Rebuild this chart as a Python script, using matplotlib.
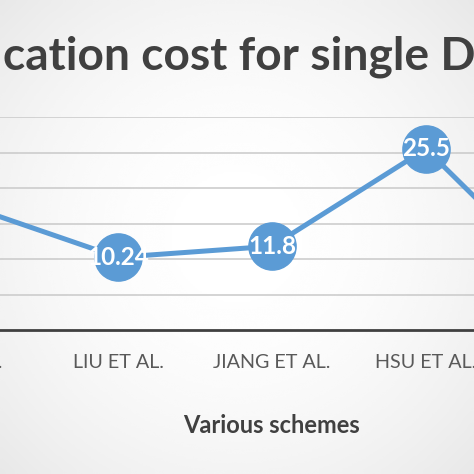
import matplotlib
matplotlib.use("Agg")
import matplotlib.pyplot as plt
import numpy as np

# data (first and last point are cut off, estimated from the line slope)
schemes = ["LI ET AL.", "LIU ET AL.", "JIANG ET AL.", "HSU ET AL.", "PROPOSED"]
cost = [17.7, 10.24, 11.8, 25.5, 4.1]
title = "cation cost for single Device"   # left part of the title is outside the crop
title_shown = "cation cost for single D"
xlabel = "Various schemes"

BLUE = "#5B9BD5"
FONT = "Lato"

W = H = 474
fig = plt.figure(figsize=(W / 100, H / 100), dpi=100)
renderer = fig.canvas.get_renderer()

# soft grey gradient behind everything, like the excel chart area fill
bg = fig.add_axes([0, 0, 1, 1], zorder=0)
yy, xx = np.mgrid[-1:1:200j, -1:1:200j]
r2 = (xx ** 2 + yy ** 2) / 2
bg.imshow(1 - 0.09 * r2, cmap="gray", vmin=0, vmax=1, extent=[0, 1, 0, 1],
          aspect="auto", interpolation="bicubic")
bg.set_axis_off()

# plot area in pixels (y from top): x -113..657, y 117..330, wider than the crop
left, right, top, bottom = -113, 657, 117, 330
ax = fig.add_axes([left / W, (H - bottom) / H, (right - left) / W, (bottom - top) / H], zorder=1)
ax.set_facecolor("none")

x = np.arange(len(schemes))
ax.plot(x, cost, color=BLUE, lw=3.6, marker="o", ms=34, mfc=BLUE, mec=BLUE,
        solid_joinstyle="round", zorder=3, clip_on=False)
for xi, v in zip(x, cost):
    ax.text(xi, v, f"{v:g}", color="white", fontsize=17.5, fontweight="bold",
            family=FONT, ha="center", va="center", zorder=4)

ax.set_xlim(-0.5, len(schemes) - 0.5)
ax.set_ylim(0, 30)
ax.set_yticks(np.arange(5, 31, 5))
ax.yaxis.grid(True, color="#C9C9C9", lw=1.1)
ax.set_axisbelow(True)
ax.tick_params(axis="y", left=False, labelleft=False)
ax.set_xticks(x)
ax.set_xticklabels(schemes, family=FONT, fontsize=14.2, color="#595959")
ax.tick_params(axis="x", length=0, pad=17)
for s in ["top", "left", "right"]:
    ax.spines[s].set_visible(False)
ax.spines["bottom"].set_color("#404040")
ax.spines["bottom"].set_linewidth(2)

ax.set_xlabel(xlabel, family=FONT, fontsize=17, fontweight="bold", color="#404040", labelpad=31)


def text_width(s, **kw):
    t = fig.text(0, 0, s, **kw)
    w = t.get_window_extent(renderer).width
    t.remove()
    return w


# title: measure at a small size and scale up so "cation ... D" spans x=3..472
small = dict(family=FONT, fontsize=12, fontweight="bold")
k = 469 / text_width(title_shown, **small)
fig.text(3 / W, (H - 70) / H, title, ha="left", va="baseline",
         family=FONT, fontsize=12 * k, fontweight="bold", color="#404040")

fig.savefig("out.png", dpi=100)
